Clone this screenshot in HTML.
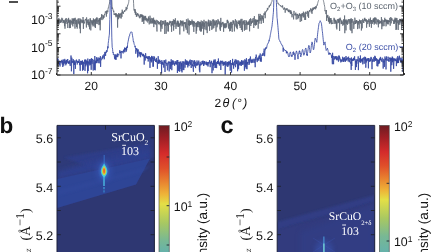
<!DOCTYPE html>
<html><head><meta charset="utf-8"><style>
html,body{margin:0;padding:0;background:#fff;}
body{width:448px;height:252px;overflow:hidden;position:relative;}
svg{position:absolute;left:0;top:0;text-rendering:geometricPrecision;}
.s{font-family:"Liberation Sans",Arial,sans-serif;}
.r{font-family:"Liberation Serif","Times New Roman",serif;}
</style></head><body>
<svg width="448" height="252" viewBox="0 0 448 252">
<defs>
<linearGradient id="cb" x1="0" y1="125.6" x2="0" y2="252" gradientUnits="userSpaceOnUse">
<stop offset="0.000" stop-color="#6e1c22"/>
<stop offset="0.100" stop-color="#a01f25"/>
<stop offset="0.220" stop-color="#d42b2b"/>
<stop offset="0.340" stop-color="#e0502a"/>
<stop offset="0.450" stop-color="#e98530"/>
<stop offset="0.540" stop-color="#eeb238"/>
<stop offset="0.620" stop-color="#e4df46"/>
<stop offset="0.770" stop-color="#a8c862"/>
<stop offset="0.910" stop-color="#78b894"/>
<stop offset="1.000" stop-color="#66b2aa"/>
</linearGradient>
<linearGradient id="cc" x1="0" y1="125.6" x2="0" y2="252" gradientUnits="userSpaceOnUse">
<stop offset="0.000" stop-color="#6e1c22"/>
<stop offset="0.094" stop-color="#a01f25"/>
<stop offset="0.208" stop-color="#d42b2b"/>
<stop offset="0.321" stop-color="#e0502a"/>
<stop offset="0.425" stop-color="#e98530"/>
<stop offset="0.510" stop-color="#eeb238"/>
<stop offset="0.585" stop-color="#e4df46"/>
<stop offset="0.735" stop-color="#a8c862"/>
<stop offset="0.875" stop-color="#78b894"/>
<stop offset="1.000" stop-color="#66b2aa"/>
</linearGradient>
<filter id="bl1" x="-50%" y="-50%" width="200%" height="200%"><feGaussianBlur stdDeviation="1.2"/></filter>
<filter id="bl2" x="-50%" y="-50%" width="200%" height="200%"><feGaussianBlur stdDeviation="0.6"/></filter>
<filter id="bl3" x="-50%" y="-50%" width="200%" height="200%"><feGaussianBlur stdDeviation="2.5"/></filter>
<clipPath id="cpb"><rect x="57" y="125.4" width="97.4" height="127"/></clipPath>
<clipPath id="cpc"><rect x="277.2" y="125.4" width="97.5" height="127"/></clipPath>
<clipPath id="cpa"><rect x="57" y="-5" width="346.5" height="80"/></clipPath>
</defs>

<!-- panel a -->
<line x1="9" y1="2" x2="18" y2="2" stroke="#222" stroke-width="1.6"/>
<g clip-path="url(#cpa)" fill="none" stroke-linejoin="round">
<polyline points="57.0,21.5 57.2,24.1 57.4,23.8 57.6,20.5 57.8,20.9 58.0,20.5 58.2,22.5 58.4,21.4 58.6,22.9 58.8,17.9 59.0,24.4 59.2,21.3 59.4,22.7 59.6,21.2 59.8,20.7 60.0,22.3 60.2,23.0 60.4,21.0 60.6,21.1 60.8,22.7 61.0,19.8 61.2,21.7 61.4,22.2 61.6,20.1 61.8,17.8 62.0,19.9 62.2,20.5 62.4,19.1 62.6,18.6 62.8,21.5 63.0,23.1 63.2,20.9 63.4,20.0 63.6,22.1 63.8,22.7 64.0,20.8 64.2,22.4 64.4,23.4 64.6,26.2 64.8,19.8 65.0,28.7 65.2,21.8 65.4,23.4 65.6,18.9 65.8,20.1 66.0,19.8 66.2,18.0 66.4,21.6 66.6,22.3 66.8,19.9 67.0,24.0 67.2,22.9 67.4,22.5 67.6,22.1 67.8,28.0 68.0,18.8 68.2,22.5 68.4,22.5 68.6,17.9 68.8,22.0 69.0,20.8 69.2,22.8 69.4,20.5 69.6,28.1 69.8,21.9 70.0,19.6 70.2,22.4 70.4,28.0 70.6,22.2 70.8,20.3 71.0,23.3 71.2,22.4 71.4,20.9 71.6,22.5 71.8,23.7 72.0,24.7 72.2,18.3 72.4,22.9 72.6,22.1 72.8,26.4 73.0,19.3 73.2,23.6 73.4,18.8 73.6,22.3 73.8,23.7 74.0,18.2 74.2,20.6 74.4,18.7 74.6,21.7 74.8,24.1 75.0,28.6 75.2,17.8 75.4,20.1 75.6,22.5 75.8,24.2 76.0,22.0 76.2,19.8 76.4,21.8 76.6,27.0 76.8,20.8 77.0,19.8 77.2,28.6 77.4,21.8 77.6,21.0 77.8,20.7 78.0,18.7 78.2,20.2 78.4,23.4 78.6,20.8 78.8,18.4 79.0,23.7 79.2,22.2 79.4,25.1 79.6,21.3 79.8,28.5 80.0,18.4 80.2,23.6 80.4,33.2 80.6,19.6 80.8,19.9 81.0,22.2 81.2,19.5 81.4,20.6 81.6,20.4 81.8,21.5 82.0,23.2 82.2,21.1 82.4,22.8 82.6,20.3 82.8,21.7 83.0,17.0 83.2,18.3 83.4,28.9 83.6,20.0 83.8,22.2 84.0,22.1 84.2,23.6 84.4,22.6 84.6,23.0 84.8,20.8 85.0,19.7 85.2,19.7 85.4,20.1 85.6,18.9 85.8,20.0 86.0,20.9 86.2,21.5 86.4,27.5 86.6,17.4 86.8,20.9 87.0,21.5 87.2,23.1 87.4,22.1 87.6,19.8 87.8,19.6 88.0,24.8 88.2,22.4 88.4,24.5 88.6,25.0 88.8,19.4 89.0,26.6 89.2,21.9 89.4,22.0 89.6,29.3 89.8,21.4 90.0,21.3 90.2,18.1 90.4,20.7 90.6,19.6 90.8,30.4 91.0,20.1 91.2,22.1 91.4,22.5 91.6,21.5 91.8,21.5 92.0,24.5 92.2,20.1 92.4,20.6 92.6,24.5 92.8,21.7 93.0,26.4 93.2,22.0 93.4,18.4 93.6,22.6 93.8,19.5 94.0,25.6 94.2,20.5 94.4,19.8 94.6,21.5 94.8,19.8 95.0,27.1 95.2,19.3 95.4,28.0 95.6,20.8 95.8,18.5 96.0,20.6 96.2,22.0 96.4,23.8 96.6,17.6 96.8,21.3 97.0,21.3 97.2,17.6 97.4,20.8 97.6,22.0 97.8,24.1 98.0,20.5 98.2,21.7 98.4,20.3 98.6,20.5 98.8,19.6 99.0,25.1 99.2,18.0 99.4,20.9 99.6,18.5 99.8,24.5 100.0,19.7 100.2,30.3 100.4,20.4 100.6,17.7 100.8,19.6 101.0,17.6 101.2,18.0 101.4,18.2 101.6,14.2 101.8,18.0 102.0,20.1 102.2,16.3 102.4,15.0 102.6,14.8 102.8,15.5 103.0,18.1 103.2,19.2 103.4,16.4 103.6,17.7 103.8,15.4 104.0,17.7 104.2,15.3 104.4,15.3 104.6,13.9 104.8,14.5 105.0,14.5 105.2,12.4 105.4,11.4 105.6,12.5 105.8,12.2 106.0,11.7 106.2,12.8 106.4,16.6 106.6,10.7 106.8,14.0 107.0,11.3 107.2,10.7 107.4,10.6 107.6,11.1 107.8,12.2 108.0,9.4 108.2,7.9 108.4,8.1 108.6,8.0 108.8,6.0 109.0,5.0 109.2,4.1 109.4,4.0 109.6,1.6 109.8,-1.1 110.0,-4.2 110.2,-7.4 110.4,-14.5 110.6,-26.6 110.8,-38.9 111.0,-26.6 111.2,-14.8 111.4,-7.3 111.6,-2.8 111.8,0.0 112.0,4.1 112.2,9.0 112.4,7.6 112.6,8.5 112.8,8.6 113.0,10.3 113.2,10.2 113.4,10.9 113.6,11.8 113.8,10.8 114.0,14.9 114.2,14.9 114.4,14.2 114.6,13.7 114.8,14.6 115.0,13.8 115.2,15.0 115.4,13.9 115.6,15.4 115.8,13.1 116.0,17.2 116.2,14.9 116.4,13.6 116.6,15.7 116.8,15.7 117.0,16.6 117.2,14.9 117.4,17.0 117.6,27.6 117.8,14.3 118.0,16.5 118.2,15.4 118.4,19.2 118.6,13.0 118.8,13.8 119.0,15.9 119.2,15.0 119.4,17.1 119.6,13.9 119.8,14.9 120.0,18.2 120.2,13.4 120.4,14.7 120.6,14.0 120.8,13.8 121.0,14.8 121.2,18.5 121.4,12.6 121.6,13.5 121.8,16.2 122.0,16.8 122.2,9.7 122.4,12.5 122.6,11.6 122.8,13.1 123.0,12.0 123.2,14.0 123.4,12.8 123.6,12.5 123.8,11.6 124.0,11.2 124.2,11.4 124.4,12.0 124.6,11.1 124.8,10.1 125.0,11.4 125.2,10.2 125.4,9.8 125.6,9.0 125.8,9.0 126.0,8.8 126.2,6.9 126.4,9.6 126.6,10.3 126.8,8.3 127.0,9.0 127.2,7.8 127.4,7.0 127.6,4.9 127.8,5.3 128.0,4.8 128.2,4.3 128.4,3.5 128.6,2.7 128.8,1.4 129.0,-0.4 129.2,-2.3 129.4,-4.9 129.6,-7.3 129.8,-10.0 130.0,-12.4 130.2,-15.2 130.4,-17.4 130.6,-19.8 130.8,-21.6 131.0,-23.6 131.2,-25.7 131.4,-27.6 131.6,-27.7 131.8,-25.6 132.0,-23.6 132.2,-21.8 132.4,-19.8 132.6,-16.3 132.8,-12.7 133.0,-8.4 133.2,-4.5 133.4,-0.6 133.6,3.4 133.8,7.7 134.0,10.0 134.2,10.6 134.4,9.2 134.6,10.1 134.8,10.9 135.0,12.8 135.2,9.2 135.4,14.8 135.6,11.6 135.8,12.9 136.0,12.2 136.2,13.5 136.4,16.8 136.6,14.1 136.8,14.4 137.0,16.4 137.2,13.2 137.4,14.9 137.6,14.1 137.8,13.4 138.0,14.5 138.2,14.4 138.4,15.8 138.6,14.9 138.8,14.4 139.0,17.2 139.2,16.7 139.4,17.2 139.6,16.4 139.8,18.3 140.0,15.2 140.2,15.5 140.4,17.4 140.6,16.3 140.8,14.1 141.0,16.4 141.2,14.5 141.4,16.9 141.6,15.0 141.8,15.0 142.0,17.2 142.2,22.0 142.4,14.7 142.6,18.6 142.8,20.9 143.0,15.3 143.2,20.7 143.4,16.8 143.6,17.2 143.8,24.0 144.0,15.8 144.2,20.3 144.4,19.1 144.6,17.1 144.8,18.0 145.0,16.0 145.2,18.0 145.4,20.2 145.6,15.9 145.8,18.1 146.0,19.1 146.2,20.7 146.4,21.3 146.6,18.3 146.8,17.9 147.0,20.0 147.2,18.7 147.4,18.9 147.6,21.4 147.8,22.5 148.0,20.1 148.2,19.4 148.4,20.8 148.6,16.5 148.8,19.9 149.0,18.1 149.2,24.4 149.4,21.5 149.6,20.5 149.8,19.9 150.0,15.7 150.2,21.8 150.4,23.5 150.6,19.2 150.8,21.9 151.0,22.1 151.2,17.9 151.4,22.6 151.6,23.5 151.8,21.5 152.0,21.0 152.2,22.7 152.4,18.3 152.6,21.5 152.8,23.4 153.0,19.1 153.2,23.4 153.4,20.8 153.6,17.7 153.8,27.1 154.0,20.0 154.2,22.5 154.4,19.8 154.6,24.1 154.8,20.7 155.0,22.8 155.2,21.0 155.4,21.5 155.6,24.4 155.8,22.6 156.0,21.5 156.2,19.8 156.4,24.4 156.6,23.6 156.8,29.4 157.0,31.5 157.2,20.3 157.4,20.4 157.6,20.8 157.8,23.0 158.0,22.9 158.2,21.0 158.4,23.8 158.6,23.9 158.8,22.8 159.0,24.4 159.2,21.9 159.4,22.3 159.6,23.4 159.8,22.4 160.0,24.0 160.2,25.3 160.4,25.3 160.6,21.1 160.8,31.6 161.0,20.0 161.2,26.6 161.4,25.0 161.6,24.7 161.8,24.2 162.0,28.8 162.2,21.2 162.4,21.8 162.6,20.9 162.8,24.9 163.0,23.1 163.2,22.7 163.4,23.7 163.6,21.0 163.8,21.1 164.0,21.2 164.2,23.8 164.4,23.5 164.6,24.0 164.8,34.0 165.0,20.3 165.2,25.9 165.4,23.2 165.6,20.4 165.8,22.0 166.0,24.9 166.2,33.7 166.4,25.1 166.6,23.1 166.8,22.6 167.0,25.1 167.2,22.4 167.4,23.7 167.6,25.6 167.8,22.4 168.0,31.4 168.2,23.1 168.4,31.4 168.6,24.1 168.8,23.5 169.0,24.3 169.2,25.0 169.4,21.6 169.6,23.6 169.8,21.5 170.0,20.8 170.2,21.0 170.4,21.6 170.6,23.0 170.8,21.4 171.0,23.7 171.2,26.5 171.4,23.0 171.6,31.8 171.8,23.8 172.0,21.2 172.2,22.8 172.4,21.4 172.6,24.8 172.8,21.1 173.0,25.8 173.2,24.4 173.4,19.4 173.6,30.6 173.8,26.2 174.0,26.7 174.2,25.2 174.4,19.9 174.6,23.8 174.8,20.1 175.0,24.2 175.2,19.9 175.4,18.3 175.6,24.0 175.8,27.6 176.0,28.9 176.2,24.9 176.4,23.5 176.6,22.7 176.8,24.4 177.0,26.4 177.2,20.9 177.4,24.4 177.6,23.9 177.8,20.6 178.0,26.3 178.2,27.0 178.4,21.5 178.6,26.6 178.8,23.4 179.0,23.0 179.2,26.1 179.4,23.7 179.6,23.9 179.8,34.5 180.0,25.7 180.2,25.0 180.4,20.6 180.6,20.3 180.8,25.4 181.0,21.5 181.2,23.6 181.4,21.2 181.6,22.9 181.8,20.8 182.0,26.4 182.2,21.3 182.4,23.0 182.6,22.9 182.8,25.6 183.0,20.6 183.2,23.2 183.4,22.9 183.6,24.3 183.8,31.3 184.0,22.4 184.2,23.7 184.4,22.5 184.6,24.1 184.8,23.1 185.0,22.0 185.2,23.2 185.4,23.9 185.6,27.6 185.8,22.3 186.0,23.8 186.2,29.7 186.4,19.3 186.6,19.9 186.8,21.0 187.0,23.0 187.2,27.9 187.4,33.2 187.6,25.5 187.8,22.8 188.0,18.6 188.2,21.8 188.4,25.2 188.6,23.6 188.8,20.8 189.0,34.6 189.2,20.3 189.4,25.4 189.6,26.0 189.8,21.8 190.0,21.1 190.2,24.8 190.4,21.2 190.6,24.9 190.8,21.0 191.0,24.8 191.2,23.4 191.4,22.4 191.6,21.5 191.8,23.7 192.0,19.6 192.2,22.7 192.4,22.5 192.6,24.5 192.8,20.9 193.0,26.5 193.2,22.6 193.4,21.1 193.6,25.9 193.8,31.9 194.0,22.9 194.2,21.5 194.4,23.3 194.6,21.9 194.8,26.7 195.0,26.2 195.2,24.0 195.4,23.5 195.6,23.9 195.8,23.1 196.0,24.8 196.2,33.7 196.4,22.5 196.6,30.9 196.8,27.8 197.0,24.0 197.2,22.9 197.4,27.1 197.6,23.2 197.8,21.1 198.0,24.5 198.2,21.5 198.4,22.3 198.6,23.8 198.8,27.2 199.0,21.8 199.2,22.2 199.4,22.1 199.6,25.4 199.8,30.5 200.0,22.1 200.2,27.1 200.4,22.2 200.6,31.5 200.8,25.7 201.0,29.9 201.2,20.5 201.4,31.4 201.6,24.5 201.8,25.0 202.0,23.3 202.2,28.8 202.4,25.8 202.6,21.2 202.8,25.9 203.0,23.5 203.2,22.1 203.4,22.6 203.6,34.8 203.8,25.1 204.0,19.8 204.2,27.0 204.4,22.9 204.6,22.9 204.8,29.2 205.0,29.4 205.2,24.8 205.4,21.4 205.6,22.5 205.8,22.1 206.0,21.8 206.2,30.2 206.4,23.9 206.6,21.9 206.8,21.4 207.0,22.3 207.2,33.1 207.4,23.4 207.6,23.6 207.8,22.6 208.0,22.7 208.2,23.6 208.4,19.7 208.6,26.3 208.8,21.7 209.0,22.1 209.2,25.7 209.4,23.6 209.6,30.8 209.8,22.1 210.0,20.2 210.2,23.5 210.4,25.5 210.6,21.5 210.8,25.8 211.0,21.0 211.2,21.8 211.4,24.1 211.6,23.2 211.8,29.9 212.0,21.8 212.2,21.2 212.4,19.6 212.6,20.9 212.8,28.8 213.0,28.4 213.2,23.8 213.4,21.9 213.6,19.4 213.8,27.9 214.0,21.6 214.2,20.8 214.4,25.5 214.6,25.4 214.8,21.0 215.0,20.4 215.2,21.3 215.4,25.3 215.6,22.6 215.8,21.6 216.0,31.7 216.2,25.5 216.4,20.5 216.6,22.4 216.8,20.5 217.0,27.3 217.2,26.6 217.4,25.0 217.6,22.9 217.8,24.4 218.0,19.2 218.2,23.7 218.4,20.6 218.6,20.6 218.8,21.8 219.0,22.5 219.2,24.3 219.4,24.5 219.6,23.7 219.8,21.4 220.0,29.4 220.2,22.9 220.4,30.9 220.6,21.4 220.8,17.9 221.0,22.2 221.2,27.2 221.4,24.0 221.6,22.8 221.8,24.8 222.0,24.1 222.2,24.0 222.4,22.2 222.6,23.3 222.8,23.5 223.0,21.9 223.2,26.4 223.4,23.4 223.6,31.8 223.8,24.4 224.0,24.1 224.2,24.1 224.4,28.1 224.6,23.6 224.8,25.1 225.0,26.9 225.2,23.2 225.4,23.6 225.6,28.2 225.8,26.3 226.0,23.7 226.2,23.8 226.4,23.3 226.6,27.4 226.8,25.3 227.0,22.7 227.2,19.9 227.4,22.9 227.6,19.9 227.8,21.2 228.0,23.2 228.2,21.4 228.4,25.2 228.6,28.6 228.8,23.6 229.0,24.2 229.2,25.9 229.4,24.9 229.6,31.3 229.8,23.3 230.0,23.0 230.2,25.3 230.4,21.9 230.6,31.0 230.8,23.0 231.0,23.6 231.2,28.4 231.4,27.2 231.6,21.9 231.8,23.6 232.0,23.7 232.2,31.8 232.4,24.0 232.6,23.9 232.8,25.0 233.0,20.3 233.2,23.2 233.4,20.8 233.6,23.6 233.8,20.9 234.0,21.3 234.2,23.0 234.4,31.4 234.6,24.2 234.8,23.7 235.0,25.8 235.2,21.3 235.4,19.2 235.6,22.3 235.8,22.6 236.0,25.5 236.2,27.2 236.4,20.6 236.6,27.8 236.8,26.1 237.0,24.7 237.2,29.2 237.4,27.7 237.6,23.3 237.8,22.2 238.0,23.4 238.2,20.5 238.4,24.0 238.6,22.9 238.8,23.8 239.0,23.8 239.2,21.1 239.4,25.6 239.6,21.2 239.8,24.8 240.0,20.1 240.2,28.0 240.4,21.5 240.6,23.1 240.8,21.8 241.0,18.9 241.2,20.9 241.4,30.0 241.6,24.1 241.8,20.1 242.0,18.9 242.2,21.2 242.4,31.8 242.6,25.8 242.8,21.3 243.0,24.4 243.2,24.6 243.4,24.2 243.6,21.0 243.8,22.9 244.0,22.3 244.2,20.0 244.4,30.7 244.6,22.8 244.8,21.7 245.0,25.3 245.2,29.9 245.4,24.2 245.6,24.8 245.8,23.9 246.0,20.1 246.2,21.7 246.4,24.3 246.6,21.0 246.8,29.6 247.0,23.1 247.2,25.1 247.4,24.8 247.6,24.0 247.8,21.9 248.0,24.0 248.2,23.2 248.4,21.9 248.6,24.8 248.8,23.1 249.0,20.7 249.2,24.5 249.4,21.6 249.6,31.3 249.8,19.2 250.0,22.0 250.2,20.2 250.4,20.1 250.6,18.3 250.8,26.0 251.0,21.6 251.2,22.4 251.4,24.0 251.6,21.6 251.8,22.8 252.0,19.2 252.2,22.1 252.4,20.9 252.6,22.6 252.8,22.0 253.0,18.9 253.2,18.0 253.4,19.5 253.6,22.8 253.8,28.0 254.0,22.1 254.2,17.4 254.4,16.1 254.6,20.0 254.8,25.0 255.0,19.9 255.2,21.7 255.4,20.6 255.6,25.6 255.8,19.2 256.0,21.1 256.2,24.3 256.4,20.6 256.6,24.9 256.8,20.1 257.0,20.8 257.2,21.9 257.4,19.8 257.6,21.4 257.8,21.4 258.0,20.0 258.2,28.7 258.4,20.1 258.6,21.0 258.8,13.9 259.0,23.6 259.2,20.8 259.4,19.1 259.6,16.0 259.8,16.7 260.0,21.0 260.2,13.9 260.4,17.8 260.6,19.6 260.8,18.3 261.0,19.1 261.2,23.8 261.4,21.3 261.6,15.8 261.8,15.2 262.0,17.5 262.2,19.1 262.4,16.7 262.6,18.2 262.8,15.7 263.0,20.6 263.2,18.0 263.4,22.9 263.6,17.5 263.8,14.5 264.0,13.3 264.2,14.8 264.4,13.9 264.6,14.6 264.8,14.2 265.0,11.6 265.2,18.2 265.4,12.7 265.6,12.5 265.8,12.1 266.0,11.6 266.2,12.1 266.4,11.3 266.6,11.1 266.8,10.0 267.0,10.6 267.2,9.9 267.4,7.9 267.6,9.7 267.8,8.8 268.0,9.3 268.2,8.2 268.4,7.9 268.6,7.7 268.8,7.3 269.0,6.7 269.2,5.7 269.4,7.2 269.6,5.2 269.8,5.4 270.0,5.4 270.2,4.9 270.4,4.6 270.6,5.5 270.8,3.9 271.0,3.3 271.2,3.4 271.4,2.3 271.6,2.1 271.8,1.6 272.0,1.2 272.2,-0.5 272.4,-2.1 272.6,-3.7 272.8,-5.3 273.0,-7.2 273.2,-8.8 273.4,-10.8 273.6,-13.1 273.8,-15.0 274.0,-16.9 274.2,-18.7 274.4,-23.7 274.6,-30.4 274.8,-35.8 275.0,-35.9 275.2,-30.2 275.4,-24.5 275.6,-18.4 275.8,-15.7 276.0,-12.8 276.2,-9.7 276.4,-6.9 276.6,-4.5 276.8,-1.5 277.0,1.2 277.2,1.6 277.4,2.1 277.6,2.3 277.8,2.4 278.0,3.7 278.2,3.1 278.4,3.6 278.6,4.6 278.8,4.8 279.0,4.7 279.2,4.7 279.4,4.5 279.6,4.7 279.8,5.2 280.0,5.5 280.2,5.8 280.4,5.5 280.6,5.1 280.8,6.5 281.0,6.2 281.2,6.4 281.4,6.5 281.6,5.9 281.8,6.5 282.0,6.9 282.2,7.5 282.4,7.1 282.6,5.4 282.8,7.2 283.0,7.8 283.2,8.5 283.4,8.3 283.6,9.6 283.8,9.1 284.0,9.2 284.2,9.1 284.4,7.5 284.6,9.2 284.8,9.2 285.0,8.5 285.2,12.7 285.4,9.4 285.6,8.8 285.8,9.2 286.0,9.2 286.2,9.7 286.4,9.3 286.6,10.2 286.8,8.2 287.0,9.7 287.2,8.6 287.4,9.7 287.6,10.7 287.8,10.4 288.0,10.4 288.2,10.6 288.4,12.1 288.6,9.8 288.8,11.8 289.0,9.6 289.2,10.8 289.4,11.5 289.6,10.6 289.8,11.8 290.0,12.5 290.2,10.7 290.4,13.8 290.6,11.8 290.8,10.2 291.0,12.2 291.2,11.7 291.4,14.2 291.6,11.9 291.8,14.9 292.0,17.3 292.2,15.5 292.4,14.0 292.6,14.1 292.8,14.6 293.0,14.9 293.2,15.6 293.4,16.1 293.6,19.4 293.8,12.6 294.0,10.9 294.2,13.8 294.4,15.3 294.6,14.9 294.8,14.7 295.0,14.1 295.2,13.8 295.4,14.4 295.6,15.4 295.8,12.6 296.0,16.0 296.2,19.5 296.4,14.9 296.6,14.4 296.8,14.8 297.0,14.0 297.2,13.9 297.4,15.2 297.6,14.1 297.8,19.2 298.0,15.2 298.2,14.8 298.4,14.9 298.6,18.0 298.8,15.6 299.0,15.2 299.2,16.0 299.4,13.4 299.6,15.5 299.8,13.8 300.0,15.3 300.2,21.9 300.4,16.0 300.6,15.9 300.8,14.3 301.0,16.4 301.2,14.5 301.4,15.6 301.6,21.1 301.8,14.6 302.0,13.3 302.2,15.8 302.4,13.4 302.6,13.7 302.8,13.4 303.0,15.9 303.2,17.5 303.4,11.7 303.6,15.4 303.8,17.0 304.0,16.5 304.2,13.4 304.4,14.1 304.6,14.5 304.8,20.0 305.0,13.7 305.2,12.3 305.4,14.4 305.6,19.9 305.8,11.7 306.0,12.7 306.2,13.4 306.4,12.9 306.6,13.4 306.8,13.6 307.0,13.2 307.2,12.4 307.4,10.9 307.6,12.9 307.8,16.5 308.0,14.1 308.2,11.8 308.4,11.7 308.6,18.0 308.8,12.9 309.0,11.7 309.2,11.9 309.4,10.3 309.6,11.5 309.8,10.0 310.0,10.5 310.2,10.4 310.4,10.0 310.6,8.4 310.8,9.4 311.0,10.3 311.2,12.4 311.4,9.4 311.6,9.9 311.8,10.0 312.0,13.8 312.2,8.5 312.4,9.0 312.6,10.9 312.8,8.1 313.0,7.6 313.2,8.5 313.4,7.8 313.6,9.8 313.8,8.1 314.0,7.9 314.2,7.6 314.4,9.0 314.6,7.0 314.8,7.4 315.0,6.9 315.2,7.2 315.4,8.2 315.6,9.3 315.8,6.1 316.0,6.7 316.2,8.2 316.4,6.2 316.6,6.3 316.8,5.8 317.0,4.8 317.2,5.3 317.4,4.9 317.6,3.6 317.8,2.6 318.0,2.2 318.2,1.4 318.4,0.8 318.6,0.3 318.8,-1.0 319.0,-1.7 319.2,-2.9 319.4,-3.1 319.6,-4.7 319.8,-6.5 320.0,-8.5 320.2,-10.8 320.4,-12.7 320.6,-14.9 320.8,-17.1 321.0,-18.7 321.2,-16.7 321.4,-14.9 321.6,-12.6 321.8,-10.7 322.0,-8.6 322.2,-6.8 322.4,-5.0 322.6,-3.1 322.8,-2.2 323.0,-1.4 323.2,-0.5 323.4,0.4 323.6,1.4 323.8,2.3 324.0,2.9 324.2,4.6 324.4,4.8 324.6,6.3 324.8,7.4 325.0,10.8 325.2,10.1 325.4,11.9 325.6,12.2 325.8,12.9 326.0,14.1 326.2,12.3 326.4,10.0 326.6,20.9 326.8,16.7 327.0,17.1 327.2,15.3 327.4,16.5 327.6,17.6 327.8,14.9 328.0,17.2 328.2,17.4 328.4,21.3 328.6,17.8 328.8,21.8 329.0,19.3 329.2,16.5 329.4,23.6 329.6,18.2 329.8,21.2 330.0,23.4 330.2,19.3 330.4,18.1 330.6,22.3 330.8,20.5 331.0,18.1 331.2,18.4 331.4,24.2 331.6,22.3 331.8,20.0 332.0,21.7 332.2,23.6 332.4,22.9 332.6,23.3 332.8,22.9 333.0,23.9 333.2,22.9 333.4,21.3 333.6,20.5 333.8,18.7 334.0,17.8 334.2,18.7 334.4,20.7 334.6,18.6 334.8,23.9 335.0,19.7 335.2,22.1 335.4,20.3 335.6,20.6 335.8,23.5 336.0,20.4 336.2,22.1 336.4,27.7 336.6,21.7 336.8,29.4 337.0,24.5 337.2,20.2 337.4,19.2 337.6,20.6 337.8,20.3 338.0,23.2 338.2,22.9 338.4,18.9 338.6,22.4 338.8,20.4 339.0,22.2 339.2,20.4 339.4,18.5 339.6,30.9 339.8,22.2 340.0,19.0 340.2,17.7 340.4,20.3 340.6,19.0 340.8,20.6 341.0,22.5 341.2,24.1 341.4,20.6 341.6,23.9 341.8,23.5 342.0,20.5 342.2,20.9 342.4,22.9 342.6,22.4 342.8,25.7 343.0,24.0 343.2,22.8 343.4,24.5 343.6,19.3 343.8,21.6 344.0,20.7 344.2,24.6 344.4,22.3 344.6,15.5 344.8,33.2 345.0,19.5 345.2,22.7 345.4,20.4 345.6,21.7 345.8,22.5 346.0,30.4 346.2,19.5 346.4,23.9 346.6,22.0 346.8,21.2 347.0,22.6 347.2,20.2 347.4,24.8 347.6,21.7 347.8,22.0 348.0,21.9 348.2,19.5 348.4,19.0 348.6,21.7 348.8,21.9 349.0,23.8 349.2,22.1 349.4,19.2 349.6,22.3 349.8,22.8 350.0,23.2 350.2,29.8 350.4,18.9 350.6,23.5 350.8,22.9 351.0,30.9 351.2,18.3 351.4,22.7 351.6,19.7 351.8,23.3 352.0,33.2 352.2,23.5 352.4,19.0 352.6,19.4 352.8,19.6 353.0,22.5 353.2,21.9 353.4,21.5 353.6,21.8 353.8,28.9 354.0,22.5 354.2,24.4 354.4,21.1 354.6,21.6 354.8,17.7 355.0,18.7 355.2,19.9 355.4,24.0 355.6,21.6 355.8,23.2 356.0,20.4 356.2,23.3 356.4,20.2 356.6,21.4 356.8,20.1 357.0,22.0 357.2,21.7 357.4,21.8 357.6,29.1 357.8,21.2 358.0,21.4 358.2,24.5 358.4,21.1 358.6,22.7 358.8,21.3 359.0,24.0 359.2,28.5 359.4,19.6 359.6,21.2 359.8,20.0 360.0,20.3 360.2,23.5 360.4,20.9 360.6,23.3 360.8,21.6 361.0,22.8 361.2,20.0 361.4,30.5 361.6,26.1 361.8,22.7 362.0,25.7 362.2,28.3 362.4,22.7 362.6,18.9 362.8,19.5 363.0,21.9 363.2,22.7 363.4,20.3 363.6,20.7 363.8,23.0 364.0,20.7 364.2,18.8 364.4,18.4 364.6,20.9 364.8,17.8 365.0,19.2 365.2,19.8 365.4,19.1 365.6,21.5 365.8,20.2 366.0,20.9 366.2,19.1 366.4,19.6 366.6,27.7 366.8,21.7 367.0,20.2 367.2,21.7 367.4,21.4 367.6,21.3 367.8,24.1 368.0,20.3 368.2,21.8 368.4,21.8 368.6,20.6 368.8,18.8 369.0,22.3 369.2,21.5 369.4,26.8 369.6,21.0 369.8,21.0 370.0,19.3 370.2,21.5 370.4,17.6 370.6,20.9 370.8,23.8 371.0,20.3 371.2,22.3 371.4,27.8 371.6,20.0 371.8,21.9 372.0,20.4 372.2,20.2 372.4,20.2 372.6,23.8 372.8,22.2 373.0,21.9 373.2,18.7 373.4,22.1 373.6,18.5 373.8,21.8 374.0,18.8 374.2,24.6 374.4,17.7 374.6,23.2 374.8,22.4 375.0,17.5 375.2,20.4 375.4,23.6 375.6,23.1 375.8,17.7 376.0,19.9 376.2,18.7 376.4,18.9 376.6,19.7 376.8,24.4 377.0,21.1 377.2,20.5 377.4,20.2 377.6,22.1 377.8,22.2 378.0,19.1 378.2,23.7 378.4,27.3 378.6,20.3 378.8,21.7 379.0,24.1 379.2,20.2 379.4,21.4 379.6,23.3 379.8,22.0 380.0,23.0 380.2,22.8 380.4,21.3 380.6,22.1 380.8,22.6 381.0,20.8 381.2,23.9 381.4,17.1 381.6,19.1 381.8,29.2 382.0,21.7 382.2,19.6 382.4,21.6 382.6,22.9 382.8,26.3 383.0,22.3 383.2,20.6 383.4,20.6 383.6,20.7 383.8,22.9 384.0,26.1 384.2,20.1 384.4,22.1 384.6,18.5 384.8,17.8 385.0,21.9 385.2,20.8 385.4,20.5 385.6,21.1 385.8,19.0 386.0,26.3 386.2,26.0 386.4,20.0 386.6,22.7 386.8,20.0 387.0,23.7 387.2,20.8 387.4,21.9 387.6,19.9 387.8,24.2 388.0,21.1 388.2,24.3 388.4,22.3 388.6,20.1 388.8,21.9 389.0,21.1 389.2,21.3 389.4,21.0 389.6,22.2 389.8,17.9 390.0,22.6 390.2,25.7 390.4,21.3 390.6,19.9 390.8,17.0 391.0,18.4 391.2,23.4 391.4,19.3 391.6,20.0 391.8,18.0 392.0,19.8 392.2,20.1 392.4,20.3 392.6,20.6 392.8,19.6 393.0,19.7 393.2,20.7 393.4,21.4 393.6,20.5 393.8,24.0 394.0,21.1 394.2,23.8 394.4,19.5 394.6,22.7 394.8,18.8 395.0,17.7 395.2,18.9 395.4,21.9 395.6,18.6 395.8,23.2 396.0,30.0 396.2,17.9 396.4,20.3 396.6,29.3 396.8,19.1 397.0,18.2 397.2,21.7 397.4,23.2 397.6,22.6 397.8,20.1 398.0,21.1 398.2,30.0 398.4,22.9 398.6,24.7 398.8,20.5 399.0,23.1 399.2,20.1 399.4,21.8 399.6,18.9 399.8,24.7 400.0,21.5 400.2,19.0 400.4,22.4 400.6,19.7 400.8,20.8 401.0,20.5 401.2,20.1 401.4,20.9 401.6,29.9 401.8,26.5 402.0,18.4 402.2,21.2 402.4,20.3 402.6,19.0 402.8,21.2 403.0,19.0 403.2,20.5 403.4,23.0" stroke="#616a76" stroke-width="0.8"/>
<polyline points="57.0,63.2 57.2,62.7 57.4,65.5 57.6,58.3 57.8,63.0 58.0,58.7 58.2,63.8 58.4,63.3 58.6,63.7 58.8,63.7 59.0,62.8 59.2,61.3 59.4,61.7 59.6,64.8 59.8,61.3 60.0,66.5 60.2,61.0 60.4,61.4 60.6,61.7 60.8,62.7 61.0,61.7 61.2,61.6 61.4,61.2 61.6,62.4 61.8,59.9 62.0,62.3 62.2,64.4 62.4,60.9 62.6,62.1 62.8,67.0 63.0,60.5 63.2,59.4 63.4,61.5 63.6,65.3 63.8,65.6 64.0,60.1 64.2,63.1 64.4,62.2 64.6,61.2 64.8,58.9 65.0,63.9 65.2,60.7 65.4,62.7 65.6,62.3 65.8,65.3 66.0,64.2 66.2,60.2 66.4,61.7 66.6,63.9 66.8,59.9 67.0,61.5 67.2,62.5 67.4,59.4 67.6,60.0 67.8,59.2 68.0,62.6 68.2,61.2 68.4,63.7 68.6,62.3 68.8,63.1 69.0,62.0 69.2,63.4 69.4,61.9 69.6,60.4 69.8,64.1 70.0,63.8 70.2,65.9 70.4,61.8 70.6,61.1 70.8,59.6 71.0,55.5 71.2,59.9 71.4,71.3 71.6,65.9 71.8,57.7 72.0,63.1 72.2,61.1 72.4,61.4 72.6,61.3 72.8,61.8 73.0,62.9 73.2,59.1 73.4,61.7 73.6,61.2 73.8,74.1 74.0,60.3 74.2,64.8 74.4,63.1 74.6,64.8 74.8,60.8 75.0,63.4 75.2,62.6 75.4,68.9 75.6,61.6 75.8,61.2 76.0,60.4 76.2,60.7 76.4,59.6 76.6,61.2 76.8,62.6 77.0,60.7 77.2,64.5 77.4,63.8 77.6,61.4 77.8,62.0 78.0,61.6 78.2,61.1 78.4,63.0 78.6,61.1 78.8,62.0 79.0,59.5 79.2,59.2 79.4,61.3 79.6,65.2 79.8,62.3 80.0,65.2 80.2,70.8 80.4,62.7 80.6,60.9 80.8,61.9 81.0,65.0 81.2,63.9 81.4,60.9 81.6,61.1 81.8,64.2 82.0,61.0 82.2,63.5 82.4,60.4 82.6,70.7 82.8,64.5 83.0,63.3 83.2,62.3 83.4,69.8 83.6,61.8 83.8,61.9 84.0,63.9 84.2,63.8 84.4,62.6 84.6,59.7 84.8,61.0 85.0,70.9 85.2,62.0 85.4,59.6 85.6,63.0 85.8,66.3 86.0,59.8 86.2,62.0 86.4,64.6 86.6,61.1 86.8,61.2 87.0,62.1 87.2,62.8 87.4,61.1 87.6,73.3 87.8,58.6 88.0,62.9 88.2,71.0 88.4,61.6 88.6,62.5 88.8,61.9 89.0,64.1 89.2,64.1 89.4,61.7 89.6,59.4 89.8,65.4 90.0,61.4 90.2,59.1 90.4,60.3 90.6,64.7 90.8,60.8 91.0,61.8 91.2,69.8 91.4,58.2 91.6,61.1 91.8,62.9 92.0,63.7 92.2,63.8 92.4,58.9 92.6,60.4 92.8,62.2 93.0,62.8 93.2,70.5 93.4,61.6 93.6,61.5 93.8,59.7 94.0,61.3 94.2,62.3 94.4,69.9 94.6,62.9 94.8,56.0 95.0,60.2 95.2,70.3 95.4,62.2 95.6,63.1 95.8,60.9 96.0,63.1 96.2,59.7 96.4,63.1 96.6,57.4 96.8,58.8 97.0,57.5 97.2,59.5 97.4,59.6 97.6,61.3 97.8,58.8 98.0,63.1 98.2,61.3 98.4,59.3 98.6,58.4 98.8,57.5 99.0,60.2 99.2,63.3 99.4,59.6 99.6,58.1 99.8,59.7 100.0,58.9 100.2,58.1 100.4,56.2 100.6,66.9 100.8,61.4 101.0,60.7 101.2,60.1 101.4,58.7 101.6,58.9 101.8,59.5 102.0,57.6 102.2,57.9 102.4,56.7 102.6,58.7 102.8,55.5 103.0,57.6 103.2,57.6 103.4,57.3 103.6,56.8 103.8,54.8 104.0,54.3 104.2,59.3 104.4,59.1 104.6,52.6 104.8,53.1 105.0,52.5 105.2,51.8 105.4,53.0 105.6,55.9 105.8,52.1 106.0,53.0 106.2,52.8 106.4,50.8 106.6,51.4 106.8,50.3 107.0,51.8 107.2,50.7 107.4,49.9 107.6,47.9 107.8,46.4 108.0,48.2 108.2,43.5 108.4,41.9 108.6,40.5 108.8,38.7 109.0,37.0 109.2,35.7 109.4,34.1 109.6,27.0 109.8,19.5 110.0,12.6 110.2,5.5 110.4,-6.4 110.6,-22.6 110.8,-38.8 111.0,-22.6 111.2,-6.5 111.4,9.7 111.6,26.0 111.8,37.2 112.0,42.9 112.2,47.4 112.4,47.9 112.6,49.3 112.8,51.6 113.0,52.9 113.2,52.3 113.4,54.7 113.6,54.9 113.8,54.4 114.0,54.3 114.2,55.1 114.4,56.9 114.6,58.7 114.8,57.8 115.0,54.5 115.2,59.5 115.4,57.3 115.6,58.7 115.8,54.5 116.0,59.9 116.2,57.4 116.4,56.5 116.6,55.4 116.8,56.9 117.0,54.5 117.2,54.1 117.4,53.5 117.6,57.0 117.8,57.2 118.0,54.3 118.2,54.9 118.4,54.6 118.6,55.1 118.8,55.3 119.0,54.5 119.2,53.5 119.4,52.8 119.6,52.1 119.8,50.2 120.0,53.0 120.2,52.0 120.4,52.9 120.6,52.6 120.8,51.4 121.0,58.4 121.2,52.8 121.4,52.4 121.6,51.1 121.8,51.1 122.0,52.4 122.2,51.9 122.4,51.9 122.6,51.3 122.8,52.1 123.0,53.0 123.2,53.4 123.4,50.3 123.6,49.9 123.8,51.8 124.0,50.1 124.2,49.2 124.4,50.1 124.6,47.6 124.8,52.3 125.0,49.1 125.2,49.1 125.4,48.1 125.6,49.5 125.8,48.5 126.0,48.1 126.2,51.7 126.4,47.1 126.6,50.3 126.8,48.4 127.0,47.7 127.2,46.2 127.4,47.8 127.6,44.3 127.8,42.8 128.0,41.9 128.2,41.2 128.4,39.9 128.6,39.0 128.8,38.0 129.0,37.1 129.2,36.2 129.4,35.8 129.6,35.9 129.8,34.2 130.0,33.9 130.2,33.3 130.4,32.7 130.6,32.4 130.8,31.9 131.0,31.9 131.2,31.9 131.4,32.0 131.6,32.1 131.8,32.0 132.0,32.3 132.2,33.6 132.4,35.1 132.6,35.8 132.8,37.5 133.0,38.4 133.2,40.3 133.4,41.7 133.6,41.3 133.8,42.0 134.0,43.3 134.2,44.3 134.4,44.7 134.6,45.1 134.8,45.4 135.0,47.2 135.2,46.2 135.4,47.3 135.6,49.4 135.8,53.7 136.0,50.0 136.2,49.6 136.4,48.5 136.6,50.1 136.8,48.3 137.0,50.7 137.2,51.6 137.4,49.6 137.6,57.4 137.8,51.0 138.0,51.0 138.2,49.4 138.4,51.4 138.6,52.7 138.8,53.0 139.0,56.4 139.2,51.7 139.4,54.0 139.6,53.9 139.8,52.9 140.0,53.0 140.2,54.3 140.4,52.4 140.6,57.2 140.8,52.9 141.0,52.2 141.2,54.5 141.4,54.3 141.6,52.8 141.8,52.9 142.0,55.2 142.2,54.7 142.4,55.0 142.6,55.7 142.8,53.9 143.0,56.4 143.2,54.9 143.4,56.0 143.6,53.9 143.8,56.3 144.0,55.8 144.2,64.6 144.4,55.4 144.6,57.9 144.8,56.8 145.0,58.2 145.2,60.5 145.4,56.9 145.6,53.2 145.8,54.6 146.0,58.1 146.2,57.3 146.4,58.0 146.6,56.5 146.8,58.1 147.0,56.5 147.2,57.0 147.4,59.0 147.6,58.8 147.8,56.6 148.0,57.4 148.2,61.5 148.4,59.7 148.6,57.4 148.8,56.2 149.0,58.6 149.2,56.2 149.4,56.3 149.6,59.9 149.8,60.8 150.0,67.9 150.2,58.7 150.4,57.3 150.6,59.4 150.8,60.8 151.0,58.6 151.2,62.4 151.4,58.4 151.6,55.9 151.8,61.4 152.0,56.3 152.2,57.7 152.4,58.4 152.6,59.3 152.8,56.8 153.0,66.8 153.2,60.1 153.4,66.4 153.6,58.2 153.8,58.7 154.0,56.1 154.2,60.5 154.4,58.6 154.6,57.2 154.8,59.6 155.0,60.6 155.2,60.4 155.4,61.0 155.6,62.0 155.8,59.2 156.0,60.5 156.2,60.7 156.4,57.9 156.6,62.3 156.8,59.9 157.0,61.0 157.2,61.2 157.4,68.8 157.6,62.2 157.8,62.6 158.0,61.3 158.2,56.2 158.4,63.5 158.6,61.0 158.8,60.3 159.0,63.9 159.2,59.7 159.4,61.0 159.6,62.7 159.8,59.9 160.0,62.2 160.2,61.0 160.4,61.6 160.6,61.5 160.8,62.7 161.0,64.0 161.2,62.4 161.4,64.0 161.6,73.4 161.8,60.2 162.0,64.1 162.2,62.2 162.4,62.4 162.6,64.4 162.8,62.4 163.0,61.7 163.2,64.9 163.4,64.6 163.6,63.5 163.8,67.6 164.0,61.1 164.2,60.0 164.4,62.4 164.6,60.9 164.8,63.4 165.0,72.0 165.2,61.8 165.4,62.8 165.6,61.4 165.8,59.6 166.0,61.6 166.2,64.0 166.4,63.2 166.6,64.4 166.8,65.7 167.0,64.3 167.2,62.7 167.4,70.3 167.6,69.8 167.8,65.6 168.0,65.3 168.2,64.4 168.4,61.5 168.6,63.8 168.8,64.0 169.0,64.9 169.2,71.4 169.4,61.7 169.6,63.1 169.8,63.1 170.0,61.8 170.2,63.7 170.4,69.1 170.6,64.7 170.8,62.0 171.0,66.3 171.2,59.3 171.4,63.2 171.6,61.7 171.8,70.2 172.0,62.6 172.2,65.0 172.4,62.0 172.6,60.4 172.8,63.3 173.0,63.9 173.2,61.6 173.4,60.7 173.6,64.2 173.8,64.7 174.0,64.1 174.2,63.0 174.4,62.9 174.6,65.7 174.8,64.2 175.0,61.3 175.2,61.1 175.4,64.0 175.6,64.1 175.8,61.9 176.0,61.6 176.2,64.5 176.4,62.4 176.6,64.3 176.8,61.0 177.0,61.2 177.2,60.0 177.4,73.0 177.6,62.2 177.8,60.1 178.0,63.2 178.2,62.0 178.4,71.1 178.6,65.3 178.8,64.6 179.0,63.8 179.2,62.4 179.4,67.0 179.6,71.7 179.8,62.3 180.0,69.0 180.2,61.4 180.4,62.0 180.6,62.9 180.8,63.6 181.0,64.8 181.2,71.1 181.4,62.7 181.6,66.2 181.8,64.1 182.0,72.4 182.2,61.3 182.4,62.2 182.6,62.5 182.8,64.3 183.0,70.0 183.2,62.0 183.4,61.5 183.6,63.4 183.8,70.1 184.0,63.9 184.2,61.6 184.4,62.6 184.6,63.7 184.8,63.4 185.0,67.7 185.2,61.4 185.4,59.4 185.6,60.7 185.8,64.4 186.0,61.1 186.2,64.7 186.4,62.6 186.6,64.2 186.8,60.4 187.0,64.7 187.2,64.9 187.4,61.4 187.6,65.2 187.8,67.4 188.0,63.0 188.2,61.4 188.4,64.9 188.6,62.5 188.8,64.7 189.0,66.1 189.2,62.3 189.4,62.6 189.6,60.6 189.8,62.1 190.0,63.8 190.2,59.6 190.4,64.1 190.6,64.5 190.8,65.0 191.0,62.0 191.2,68.0 191.4,62.5 191.6,61.2 191.8,60.0 192.0,61.7 192.2,60.6 192.4,66.3 192.6,64.3 192.8,64.5 193.0,66.7 193.2,69.6 193.4,71.8 193.6,64.4 193.8,61.3 194.0,64.1 194.2,60.2 194.4,66.4 194.6,62.6 194.8,60.7 195.0,63.1 195.2,62.0 195.4,65.1 195.6,68.1 195.8,65.2 196.0,62.7 196.2,65.2 196.4,64.7 196.6,64.3 196.8,65.7 197.0,60.5 197.2,65.3 197.4,63.7 197.6,62.4 197.8,62.7 198.0,64.8 198.2,65.1 198.4,64.3 198.6,61.1 198.8,60.6 199.0,63.1 199.2,64.1 199.4,70.4 199.6,64.6 199.8,72.3 200.0,63.9 200.2,61.8 200.4,65.2 200.6,64.7 200.8,65.4 201.0,63.7 201.2,63.6 201.4,63.7 201.6,64.6 201.8,62.8 202.0,61.1 202.2,64.0 202.4,64.2 202.6,61.0 202.8,61.9 203.0,60.6 203.2,63.6 203.4,63.4 203.6,66.0 203.8,61.5 204.0,65.3 204.2,62.7 204.4,63.5 204.6,61.0 204.8,63.1 205.0,62.2 205.2,62.9 205.4,63.4 205.6,63.9 205.8,64.5 206.0,63.0 206.2,61.6 206.4,64.8 206.6,63.2 206.8,62.1 207.0,65.4 207.2,63.6 207.4,64.3 207.6,65.0 207.8,62.0 208.0,66.5 208.2,64.0 208.4,63.9 208.6,61.9 208.8,62.9 209.0,63.7 209.2,63.0 209.4,62.9 209.6,60.1 209.8,61.8 210.0,62.3 210.2,67.2 210.4,64.0 210.6,63.1 210.8,61.9 211.0,61.9 211.2,63.5 211.4,60.8 211.6,62.7 211.8,62.6 212.0,73.2 212.2,65.9 212.4,62.9 212.6,64.6 212.8,65.8 213.0,67.9 213.2,70.4 213.4,61.0 213.6,65.8 213.8,61.2 214.0,59.6 214.2,64.9 214.4,60.6 214.6,61.1 214.8,61.9 215.0,68.0 215.2,59.4 215.4,63.4 215.6,67.7 215.8,64.4 216.0,63.0 216.2,62.4 216.4,62.2 216.6,68.1 216.8,64.5 217.0,62.3 217.2,63.6 217.4,61.1 217.6,63.9 217.8,61.2 218.0,62.8 218.2,62.7 218.4,58.5 218.6,64.2 218.8,63.0 219.0,61.7 219.2,61.8 219.4,65.6 219.6,62.8 219.8,63.8 220.0,63.3 220.2,64.1 220.4,63.5 220.6,60.7 220.8,70.0 221.0,63.9 221.2,63.7 221.4,63.1 221.6,60.9 221.8,61.9 222.0,61.7 222.2,64.2 222.4,61.7 222.6,60.8 222.8,61.7 223.0,63.6 223.2,65.8 223.4,62.3 223.6,65.0 223.8,62.3 224.0,62.4 224.2,61.7 224.4,64.4 224.6,62.3 224.8,64.7 225.0,62.4 225.2,74.5 225.4,63.5 225.6,63.2 225.8,61.1 226.0,65.3 226.2,63.7 226.4,63.3 226.6,63.2 226.8,62.4 227.0,66.3 227.2,63.8 227.4,61.9 227.6,63.0 227.8,67.0 228.0,63.0 228.2,62.7 228.4,64.7 228.6,61.6 228.8,65.6 229.0,63.2 229.2,61.3 229.4,63.0 229.6,62.1 229.8,64.4 230.0,62.5 230.2,70.7 230.4,60.0 230.6,62.5 230.8,64.2 231.0,64.1 231.2,63.3 231.4,72.3 231.6,72.6 231.8,63.2 232.0,63.6 232.2,64.8 232.4,63.5 232.6,58.9 232.8,65.1 233.0,62.1 233.2,64.4 233.4,63.4 233.6,68.7 233.8,64.9 234.0,64.2 234.2,65.4 234.4,64.7 234.6,61.0 234.8,61.1 235.0,62.5 235.2,59.4 235.4,66.0 235.6,67.2 235.8,62.9 236.0,62.6 236.2,59.7 236.4,64.1 236.6,62.0 236.8,61.1 237.0,60.8 237.2,63.0 237.4,62.8 237.6,71.2 237.8,62.1 238.0,60.2 238.2,65.6 238.4,64.5 238.6,69.2 238.8,60.9 239.0,61.4 239.2,64.3 239.4,64.0 239.6,63.6 239.8,65.2 240.0,62.2 240.2,65.5 240.4,63.4 240.6,61.8 240.8,63.9 241.0,63.5 241.2,61.7 241.4,65.9 241.6,60.1 241.8,63.2 242.0,63.5 242.2,61.5 242.4,62.8 242.6,64.9 242.8,60.7 243.0,60.7 243.2,62.0 243.4,63.4 243.6,64.4 243.8,63.4 244.0,60.5 244.2,64.2 244.4,70.7 244.6,64.0 244.8,59.4 245.0,59.3 245.2,61.0 245.4,61.3 245.6,67.2 245.8,60.1 246.0,60.1 246.2,68.8 246.4,58.2 246.6,59.8 246.8,61.8 247.0,69.2 247.2,62.1 247.4,64.3 247.6,62.1 247.8,62.7 248.0,62.9 248.2,61.5 248.4,59.2 248.6,60.9 248.8,61.0 249.0,65.0 249.2,62.4 249.4,63.5 249.6,58.6 249.8,61.1 250.0,62.5 250.2,61.9 250.4,56.5 250.6,58.0 250.8,60.8 251.0,61.1 251.2,60.7 251.4,63.1 251.6,60.0 251.8,59.5 252.0,61.7 252.2,59.7 252.4,60.8 252.6,62.2 252.8,62.9 253.0,59.7 253.2,58.8 253.4,60.5 253.6,60.8 253.8,61.4 254.0,60.7 254.2,62.9 254.4,59.7 254.6,59.6 254.8,58.8 255.0,61.4 255.2,67.2 255.4,58.6 255.6,56.9 255.8,58.8 256.0,60.3 256.2,54.6 256.4,57.0 256.6,57.2 256.8,57.3 257.0,58.6 257.2,62.1 257.4,58.6 257.6,58.8 257.8,60.4 258.0,57.8 258.2,58.6 258.4,57.6 258.6,58.0 258.8,60.6 259.0,55.7 259.2,57.9 259.4,58.8 259.6,55.6 259.8,56.8 260.0,56.7 260.2,53.5 260.4,61.4 260.6,58.3 260.8,60.6 261.0,57.4 261.2,61.8 261.4,56.2 261.6,55.4 261.8,55.5 262.0,54.9 262.2,54.3 262.4,55.8 262.6,55.1 262.8,53.8 263.0,52.9 263.2,55.7 263.4,53.7 263.6,52.6 263.8,50.7 264.0,50.2 264.2,48.6 264.4,50.8 264.6,56.2 264.8,54.1 265.0,50.0 265.2,49.9 265.4,50.0 265.6,47.6 265.8,47.7 266.0,48.9 266.2,47.9 266.4,47.6 266.6,48.1 266.8,47.1 267.0,45.8 267.2,45.1 267.4,44.3 267.6,44.2 267.8,43.7 268.0,43.1 268.2,43.1 268.4,42.4 268.6,42.4 268.8,41.4 269.0,40.5 269.2,41.1 269.4,39.1 269.6,38.8 269.8,37.7 270.0,37.1 270.2,35.7 270.4,34.6 270.6,33.6 270.8,32.4 271.0,31.4 271.2,30.4 271.4,29.7 271.6,28.4 271.8,27.1 272.0,26.2 272.2,24.2 272.4,22.4 272.6,20.6 272.8,19.1 273.0,16.2 273.2,14.3 273.4,12.3 273.6,7.6 273.8,0.8 274.0,-7.3 274.2,-14.4 274.4,-21.7 274.6,-28.5 274.8,-35.1 275.0,-34.8 275.2,-28.6 275.4,-22.0 275.6,-16.3 275.8,-11.9 276.0,-7.0 276.2,-2.6 276.4,2.4 276.6,7.3 276.8,11.8 277.0,17.3 277.2,18.6 277.4,21.0 277.6,23.0 277.8,25.3 278.0,27.6 278.2,30.2 278.4,32.2 278.6,34.8 278.8,38.1 279.0,39.4 279.2,39.7 279.4,40.2 279.6,40.3 279.8,40.9 280.0,41.6 280.2,42.0 280.4,41.8 280.6,42.5 280.8,42.8 281.0,43.6 281.2,43.8 281.4,44.1 281.6,44.2 281.8,45.0 282.0,45.2 282.2,45.7 282.4,45.9 282.6,45.6 282.8,46.9 283.0,47.3 283.2,51.7 283.4,47.8 283.6,48.8 283.8,49.1 284.0,49.0 284.2,49.1 284.4,49.5 284.6,49.7 284.8,50.2 285.0,50.0 285.2,50.6 285.4,50.7 285.6,51.0 285.8,50.3 286.0,51.1 286.2,51.3 286.4,53.3 286.6,51.5 286.8,51.2 287.0,51.9 287.2,52.5 287.4,51.9 287.6,52.8 287.8,52.8 288.0,54.0 288.2,55.3 288.4,55.6 288.6,56.4 288.8,56.9 289.0,56.6 289.2,56.8 289.4,54.8 289.6,54.6 289.8,53.2 290.0,52.5 290.2,52.6 290.4,51.9 290.6,52.5 290.8,53.5 291.0,54.1 291.2,56.2 291.4,55.6 291.6,56.3 291.8,55.6 292.0,56.6 292.2,56.0 292.4,55.7 292.6,54.6 292.8,53.4 293.0,52.1 293.2,52.5 293.4,51.7 293.6,51.7 293.8,54.8 294.0,52.8 294.2,54.2 294.4,54.5 294.6,55.8 294.8,55.6 295.0,59.8 295.2,56.3 295.4,55.2 295.6,54.2 295.8,53.4 296.0,52.4 296.2,51.8 296.4,50.9 296.6,51.7 296.8,51.5 297.0,52.8 297.2,54.1 297.4,54.4 297.6,55.8 297.8,55.8 298.0,59.1 298.2,55.5 298.4,55.3 298.6,54.3 298.8,53.1 299.0,52.1 299.2,51.1 299.4,50.7 299.6,52.0 299.8,51.3 300.0,53.7 300.2,52.8 300.4,54.4 300.6,54.9 300.8,56.9 301.0,55.6 301.2,55.2 301.4,54.9 301.6,54.0 301.8,52.8 302.0,51.9 302.2,50.6 302.4,49.7 302.6,49.4 302.8,49.7 303.0,50.4 303.2,51.8 303.4,52.6 303.6,54.0 303.8,55.2 304.0,55.2 304.2,54.6 304.4,54.3 304.6,53.0 304.8,52.3 305.0,50.7 305.2,49.3 305.4,48.9 305.6,48.1 305.8,48.3 306.0,48.3 306.2,49.8 306.4,52.3 306.6,52.2 306.8,55.0 307.0,54.1 307.2,55.9 307.4,53.5 307.6,52.4 307.8,51.5 308.0,49.9 308.2,48.7 308.4,47.0 308.6,46.2 308.8,45.4 309.0,46.0 309.2,46.0 309.4,47.6 309.6,49.4 309.8,50.5 310.0,51.9 310.2,53.0 310.4,52.3 310.6,51.8 310.8,51.1 311.0,49.3 311.2,47.1 311.4,45.5 311.6,43.7 311.8,42.7 312.0,41.9 312.2,42.3 312.4,42.6 312.6,44.2 312.8,45.7 313.0,47.2 313.2,48.7 313.4,49.6 313.6,49.8 313.8,49.1 314.0,48.0 314.2,46.5 314.4,44.7 314.6,42.8 314.8,40.7 315.0,39.2 315.2,38.3 315.4,38.1 315.6,38.7 315.8,39.3 316.0,40.1 316.2,40.4 316.4,41.1 316.6,41.7 316.8,42.3 317.0,40.3 317.2,38.3 317.4,36.3 317.6,34.2 317.8,32.3 318.0,30.8 318.2,29.4 318.4,27.7 318.6,26.2 318.8,24.9 319.0,23.3 319.2,23.0 319.4,22.7 319.6,22.2 319.8,21.6 320.0,21.3 320.2,20.7 320.4,21.2 320.6,21.6 320.8,22.1 321.0,22.4 321.2,23.2 321.4,23.3 321.6,24.9 321.8,26.6 322.0,28.3 322.2,30.3 322.4,31.6 322.6,33.3 322.8,35.6 323.0,37.3 323.2,39.3 323.4,41.3 323.6,43.3 323.8,45.1 324.0,44.7 324.2,44.1 324.4,43.6 324.6,43.0 324.8,42.4 325.0,41.9 325.2,43.3 325.4,45.4 325.6,46.2 325.8,48.7 326.0,49.0 326.2,50.5 326.4,50.0 326.6,49.8 326.8,49.5 327.0,49.3 327.2,48.6 327.4,48.1 327.6,49.1 327.8,49.6 328.0,50.3 328.2,51.7 328.4,52.8 328.6,53.6 328.8,54.6 329.0,53.6 329.2,53.3 329.4,54.2 329.6,52.7 329.8,53.3 330.0,54.2 330.2,53.3 330.4,53.7 330.6,53.5 330.8,54.0 331.0,54.5 331.2,54.9 331.4,55.9 331.6,57.8 331.8,55.6 332.0,55.3 332.2,62.0 332.4,64.2 332.6,52.8 332.8,57.1 333.0,56.0 333.2,56.2 333.4,60.7 333.6,64.2 333.8,57.6 334.0,56.2 334.2,56.4 334.4,56.8 334.6,59.5 334.8,58.4 335.0,57.9 335.2,56.6 335.4,57.1 335.6,58.5 335.8,56.1 336.0,57.1 336.2,59.3 336.4,57.9 336.6,60.2 336.8,56.3 337.0,57.4 337.2,57.0 337.4,56.9 337.6,59.6 337.8,60.2 338.0,58.7 338.2,58.5 338.4,61.7 338.6,61.5 338.8,55.6 339.0,58.9 339.2,55.8 339.4,56.6 339.6,58.2 339.8,57.4 340.0,60.4 340.2,58.7 340.4,59.0 340.6,59.3 340.8,62.4 341.0,60.0 341.2,61.0 341.4,60.3 341.6,61.5 341.8,59.5 342.0,59.3 342.2,61.6 342.4,59.7 342.6,56.8 342.8,57.3 343.0,58.7 343.2,60.3 343.4,58.2 343.6,62.0 343.8,60.2 344.0,59.0 344.2,57.4 344.4,60.6 344.6,60.5 344.8,57.5 345.0,61.7 345.2,61.5 345.4,61.9 345.6,59.4 345.8,61.0 346.0,56.0 346.2,60.2 346.4,58.7 346.6,59.3 346.8,60.2 347.0,58.3 347.2,59.1 347.4,57.8 347.6,58.1 347.8,57.5 348.0,60.0 348.2,61.5 348.4,57.8 348.6,56.7 348.8,59.0 349.0,60.1 349.2,59.8 349.4,62.2 349.6,59.4 349.8,58.0 350.0,58.7 350.2,59.2 350.4,58.7 350.6,60.2 350.8,63.7 351.0,61.9 351.2,69.9 351.4,57.5 351.6,61.0 351.8,66.0 352.0,59.8 352.2,59.4 352.4,60.0 352.6,60.8 352.8,59.2 353.0,60.8 353.2,58.5 353.4,60.2 353.6,57.8 353.8,60.0 354.0,60.4 354.2,58.5 354.4,60.0 354.6,56.3 354.8,59.3 355.0,59.0 355.2,60.5 355.4,70.0 355.6,61.1 355.8,62.6 356.0,59.6 356.2,60.9 356.4,67.1 356.6,61.0 356.8,63.8 357.0,59.1 357.2,60.1 357.4,61.1 357.6,61.0 357.8,60.2 358.0,60.2 358.2,56.4 358.4,70.1 358.6,62.1 358.8,61.9 359.0,60.3 359.2,61.8 359.4,59.7 359.6,58.5 359.8,59.5 360.0,58.4 360.2,62.5 360.4,55.5 360.6,60.0 360.8,62.7 361.0,58.7 361.2,60.8 361.4,59.5 361.6,61.4 361.8,59.3 362.0,59.4 362.2,59.7 362.4,61.6 362.6,58.4 362.8,64.3 363.0,58.6 363.2,58.8 363.4,57.5 363.6,59.0 363.8,60.3 364.0,61.9 364.2,63.7 364.4,62.1 364.6,61.9 364.8,56.7 365.0,60.3 365.2,57.5 365.4,59.3 365.6,57.3 365.8,67.7 366.0,58.6 366.2,62.5 366.4,60.1 366.6,61.0 366.8,59.0 367.0,59.6 367.2,58.3 367.4,58.6 367.6,59.0 367.8,61.1 368.0,60.1 368.2,58.3 368.4,68.3 368.6,58.1 368.8,60.4 369.0,60.0 369.2,60.0 369.4,60.7 369.6,60.5 369.8,62.0 370.0,58.4 370.2,60.8 370.4,59.3 370.6,61.1 370.8,58.8 371.0,56.9 371.2,58.9 371.4,58.6 371.6,57.8 371.8,59.0 372.0,69.2 372.2,59.1 372.4,60.8 372.6,61.9 372.8,61.3 373.0,60.4 373.2,61.2 373.4,58.9 373.6,57.5 373.8,57.2 374.0,61.2 374.2,61.9 374.4,59.2 374.6,59.7 374.8,55.8 375.0,60.8 375.2,59.5 375.4,56.6 375.6,60.5 375.8,60.7 376.0,61.0 376.2,59.5 376.4,60.1 376.6,58.2 376.8,62.0 377.0,66.1 377.2,61.8 377.4,60.6 377.6,59.3 377.8,66.4 378.0,63.7 378.2,60.3 378.4,60.0 378.6,64.1 378.8,60.0 379.0,60.9 379.2,59.1 379.4,58.9 379.6,63.4 379.8,58.8 380.0,58.1 380.2,60.2 380.4,56.9 380.6,59.6 380.8,58.9 381.0,59.9 381.2,60.4 381.4,60.1 381.6,59.6 381.8,61.8 382.0,58.8 382.2,57.7 382.4,59.3 382.6,60.8 382.8,62.6 383.0,63.1 383.2,68.6 383.4,61.6 383.6,62.4 383.8,58.9 384.0,62.2 384.2,60.5 384.4,66.9 384.6,60.7 384.8,60.8 385.0,56.5 385.2,59.9 385.4,60.1 385.6,58.6 385.8,60.0 386.0,69.4 386.2,58.4 386.4,59.5 386.6,56.4 386.8,60.4 387.0,60.6 387.2,60.2 387.4,60.6 387.6,59.0 387.8,58.8 388.0,56.8 388.2,56.8 388.4,58.5 388.6,61.2 388.8,59.7 389.0,61.9 389.2,61.0 389.4,58.0 389.6,58.7 389.8,57.9 390.0,57.3 390.2,60.1 390.4,60.8 390.6,58.2 390.8,71.7 391.0,61.2 391.2,58.8 391.4,60.3 391.6,58.1 391.8,65.2 392.0,60.6 392.2,56.7 392.4,62.2 392.6,56.9 392.8,59.9 393.0,59.0 393.2,61.2 393.4,58.3 393.6,68.9 393.8,65.0 394.0,62.6 394.2,61.2 394.4,58.6 394.6,60.4 394.8,60.2 395.0,58.5 395.2,60.5 395.4,61.1 395.6,59.2 395.8,61.0 396.0,61.2 396.2,61.3 396.4,66.1 396.6,59.7 396.8,62.2 397.0,57.7 397.2,60.6 397.4,59.5 397.6,63.2 397.8,56.0 398.0,62.7 398.2,59.5 398.4,60.7 398.6,63.0 398.8,57.6 399.0,59.4 399.2,59.9 399.4,55.7 399.6,58.7 399.8,59.0 400.0,59.5 400.2,60.9 400.4,60.3 400.6,59.3 400.8,57.7 401.0,62.9 401.2,59.9 401.4,62.2 401.6,59.8 401.8,61.3 402.0,57.9 402.2,61.4 402.4,59.5 402.6,60.0 402.8,60.9 403.0,71.9 403.2,60.3 403.4,60.5" stroke="#3649a3" stroke-width="0.85"/>
</g>
<g stroke="#222" stroke-width="0.9">
<line x1="56.5" y1="75" x2="56.5" y2="73.0"/>
<line x1="91.3" y1="75" x2="91.3" y2="72.0"/>
<line x1="126.1" y1="75" x2="126.1" y2="73.0"/>
<line x1="160.9" y1="75" x2="160.9" y2="72.0"/>
<line x1="195.7" y1="75" x2="195.7" y2="73.0"/>
<line x1="230.5" y1="75" x2="230.5" y2="72.0"/>
<line x1="265.3" y1="75" x2="265.3" y2="73.0"/>
<line x1="300.1" y1="75" x2="300.1" y2="72.0"/>
<line x1="334.9" y1="75" x2="334.9" y2="73.0"/>
<line x1="369.7" y1="75" x2="369.7" y2="72.0"/>
<line x1="404.5" y1="75" x2="404.5" y2="73.0"/>
<line x1="57" y1="75.0" x2="60.5" y2="75.0"/>
<line x1="403.5" y1="75.0" x2="400.0" y2="75.0"/>
<line x1="57" y1="70.9" x2="59.0" y2="70.9"/>
<line x1="403.5" y1="70.9" x2="401.5" y2="70.9"/>
<line x1="57" y1="68.4" x2="59.0" y2="68.4"/>
<line x1="403.5" y1="68.4" x2="401.5" y2="68.4"/>
<line x1="57" y1="66.7" x2="59.0" y2="66.7"/>
<line x1="403.5" y1="66.7" x2="401.5" y2="66.7"/>
<line x1="57" y1="65.4" x2="59.0" y2="65.4"/>
<line x1="403.5" y1="65.4" x2="401.5" y2="65.4"/>
<line x1="57" y1="64.3" x2="59.0" y2="64.3"/>
<line x1="403.5" y1="64.3" x2="401.5" y2="64.3"/>
<line x1="57" y1="63.4" x2="59.0" y2="63.4"/>
<line x1="403.5" y1="63.4" x2="401.5" y2="63.4"/>
<line x1="57" y1="62.6" x2="59.0" y2="62.6"/>
<line x1="403.5" y1="62.6" x2="401.5" y2="62.6"/>
<line x1="57" y1="61.9" x2="59.0" y2="61.9"/>
<line x1="403.5" y1="61.9" x2="401.5" y2="61.9"/>
<line x1="57" y1="61.2" x2="60.5" y2="61.2"/>
<line x1="403.5" y1="61.2" x2="400.0" y2="61.2"/>
<line x1="57" y1="57.1" x2="59.0" y2="57.1"/>
<line x1="403.5" y1="57.1" x2="401.5" y2="57.1"/>
<line x1="57" y1="54.7" x2="59.0" y2="54.7"/>
<line x1="403.5" y1="54.7" x2="401.5" y2="54.7"/>
<line x1="57" y1="53.0" x2="59.0" y2="53.0"/>
<line x1="403.5" y1="53.0" x2="401.5" y2="53.0"/>
<line x1="57" y1="51.6" x2="59.0" y2="51.6"/>
<line x1="403.5" y1="51.6" x2="401.5" y2="51.6"/>
<line x1="57" y1="50.6" x2="59.0" y2="50.6"/>
<line x1="403.5" y1="50.6" x2="401.5" y2="50.6"/>
<line x1="57" y1="49.6" x2="59.0" y2="49.6"/>
<line x1="403.5" y1="49.6" x2="401.5" y2="49.6"/>
<line x1="57" y1="48.8" x2="59.0" y2="48.8"/>
<line x1="403.5" y1="48.8" x2="401.5" y2="48.8"/>
<line x1="57" y1="48.1" x2="59.0" y2="48.1"/>
<line x1="403.5" y1="48.1" x2="401.5" y2="48.1"/>
<line x1="57" y1="47.5" x2="60.5" y2="47.5"/>
<line x1="403.5" y1="47.5" x2="400.0" y2="47.5"/>
<line x1="57" y1="43.4" x2="59.0" y2="43.4"/>
<line x1="403.5" y1="43.4" x2="401.5" y2="43.4"/>
<line x1="57" y1="40.9" x2="59.0" y2="40.9"/>
<line x1="403.5" y1="40.9" x2="401.5" y2="40.9"/>
<line x1="57" y1="39.2" x2="59.0" y2="39.2"/>
<line x1="403.5" y1="39.2" x2="401.5" y2="39.2"/>
<line x1="57" y1="37.9" x2="59.0" y2="37.9"/>
<line x1="403.5" y1="37.9" x2="401.5" y2="37.9"/>
<line x1="57" y1="36.8" x2="59.0" y2="36.8"/>
<line x1="403.5" y1="36.8" x2="401.5" y2="36.8"/>
<line x1="57" y1="35.9" x2="59.0" y2="35.9"/>
<line x1="403.5" y1="35.9" x2="401.5" y2="35.9"/>
<line x1="57" y1="35.1" x2="59.0" y2="35.1"/>
<line x1="403.5" y1="35.1" x2="401.5" y2="35.1"/>
<line x1="57" y1="34.4" x2="59.0" y2="34.4"/>
<line x1="403.5" y1="34.4" x2="401.5" y2="34.4"/>
<line x1="57" y1="33.8" x2="60.5" y2="33.8"/>
<line x1="403.5" y1="33.8" x2="400.0" y2="33.8"/>
<line x1="57" y1="29.6" x2="59.0" y2="29.6"/>
<line x1="403.5" y1="29.6" x2="401.5" y2="29.6"/>
<line x1="57" y1="27.2" x2="59.0" y2="27.2"/>
<line x1="403.5" y1="27.2" x2="401.5" y2="27.2"/>
<line x1="57" y1="25.5" x2="59.0" y2="25.5"/>
<line x1="403.5" y1="25.5" x2="401.5" y2="25.5"/>
<line x1="57" y1="24.1" x2="59.0" y2="24.1"/>
<line x1="403.5" y1="24.1" x2="401.5" y2="24.1"/>
<line x1="57" y1="23.1" x2="59.0" y2="23.1"/>
<line x1="403.5" y1="23.1" x2="401.5" y2="23.1"/>
<line x1="57" y1="22.1" x2="59.0" y2="22.1"/>
<line x1="403.5" y1="22.1" x2="401.5" y2="22.1"/>
<line x1="57" y1="21.3" x2="59.0" y2="21.3"/>
<line x1="403.5" y1="21.3" x2="401.5" y2="21.3"/>
<line x1="57" y1="20.6" x2="59.0" y2="20.6"/>
<line x1="403.5" y1="20.6" x2="401.5" y2="20.6"/>
<line x1="57" y1="20.0" x2="60.5" y2="20.0"/>
<line x1="403.5" y1="20.0" x2="400.0" y2="20.0"/>
<line x1="57" y1="15.9" x2="59.0" y2="15.9"/>
<line x1="403.5" y1="15.9" x2="401.5" y2="15.9"/>
<line x1="57" y1="13.4" x2="59.0" y2="13.4"/>
<line x1="403.5" y1="13.4" x2="401.5" y2="13.4"/>
<line x1="57" y1="11.7" x2="59.0" y2="11.7"/>
<line x1="403.5" y1="11.7" x2="401.5" y2="11.7"/>
<line x1="57" y1="10.4" x2="59.0" y2="10.4"/>
<line x1="403.5" y1="10.4" x2="401.5" y2="10.4"/>
<line x1="57" y1="9.3" x2="59.0" y2="9.3"/>
<line x1="403.5" y1="9.3" x2="401.5" y2="9.3"/>
<line x1="57" y1="8.4" x2="59.0" y2="8.4"/>
<line x1="403.5" y1="8.4" x2="401.5" y2="8.4"/>
<line x1="57" y1="7.6" x2="59.0" y2="7.6"/>
<line x1="403.5" y1="7.6" x2="401.5" y2="7.6"/>
<line x1="57" y1="6.9" x2="59.0" y2="6.9"/>
<line x1="403.5" y1="6.9" x2="401.5" y2="6.9"/>
<line x1="57" y1="6.2" x2="60.5" y2="6.2"/>
<line x1="403.5" y1="6.2" x2="400.0" y2="6.2"/>
<line x1="57" y1="2.1" x2="59.0" y2="2.1"/>
<line x1="403.5" y1="2.1" x2="401.5" y2="2.1"/>
<line x1="57" y1="-0.3" x2="59.0" y2="-0.3"/>
<line x1="403.5" y1="-0.3" x2="401.5" y2="-0.3"/>
</g>
<path d="M57,-2 V75 H403.5 V-2" fill="none" stroke="#222" stroke-width="1"/>
<g class="s" font-size="12" fill="#141414">
<text x="52.5" y="24.3" text-anchor="end" font-size="12.5">10<tspan font-size="8.5" dy="-5.5">-3</tspan></text>
<text x="52.5" y="51.8" text-anchor="end" font-size="12.5">10<tspan font-size="8.5" dy="-5.5">-5</tspan></text>
<text x="52.5" y="79.3" text-anchor="end" font-size="12.5">10<tspan font-size="8.5" dy="-5.5">-7</tspan></text>
<text x="91.3" y="90" text-anchor="middle">20</text>
<text x="160.9" y="90" text-anchor="middle">30</text>
<text x="230.5" y="90" text-anchor="middle">40</text>
<text x="300.1" y="90" text-anchor="middle">50</text>
<text x="369.7" y="90" text-anchor="middle">60</text>
<text x="214.5" y="107">2<tspan font-style="italic" dx="1.4" font-size="12.5">θ</tspan><tspan dx="2.6" font-style="italic">(</tspan><tspan dx="1.2">°</tspan><tspan dx="1.2" font-style="italic">)</tspan></text>
</g>
<g class="s" font-size="9">
<text x="398" y="9.2" text-anchor="end" fill="#5a636e">O<tspan font-size="6" dy="2">2</tspan><tspan dy="-2">+O</tspan><tspan font-size="6" dy="2">3</tspan><tspan dy="-2"> (10 sccm)</tspan></text>
<text x="398.2" y="50.4" text-anchor="end" fill="#3d50a8">O<tspan font-size="6" dy="2">2</tspan><tspan dy="-2"> (20 sccm)</tspan></text>
</g>
<line x1="398.8" y1="6.2" x2="403" y2="6.2" stroke="#5a636e" stroke-width="0.8"/>
<line x1="398.8" y1="46.8" x2="403" y2="46.8" stroke="#3d50a8" stroke-width="0.8"/>

<!-- panel b -->
<text x="-0.6" y="132.5" class="s" font-size="22.5" font-weight="bold" fill="#111">b</text>
<g clip-path="url(#cpb)">
<rect x="57" y="125.4" width="97.4" height="127" fill="#2e3a79"/>
<polygon points="57,208 136,184.5 150,158.6 154.4,157 154.4,253 57,253" fill="#2e3772"/>
<polygon points="64,157.5 150,143 150,158.6 98,170" fill="#2f3e88" filter="url(#bl1)"/>
<polygon points="57,172 98,160 150,150 150,158.6 57,179" fill="#2f4190" filter="url(#bl3)"/>
<polygon points="57,179 150,158.6 136,184.5 57,208" fill="#2f4496" filter="url(#bl2)"/>
<polygon points="57,190 150,166 143,172 57,196" fill="#31489c" opacity="0.5" filter="url(#bl1)"/>
<ellipse cx="104" cy="171" rx="8" ry="11" fill="#3a5cc0" opacity="0.4" filter="url(#bl3)"/>
<g filter="url(#bl2)">
<line x1="104.2" y1="155" x2="104.2" y2="165" stroke="#3a78d0" stroke-width="1.2" opacity="0.7"/>
<line x1="104" y1="176" x2="104" y2="186" stroke="#48b8e0" stroke-width="1.5" opacity="0.95"/>
<line x1="104" y1="187" x2="104" y2="189.2" stroke="#40a8e0" stroke-width="1.3" opacity="0.85"/>
<line x1="104" y1="190.2" x2="104" y2="192.6" stroke="#3a98d8" stroke-width="1.3" opacity="0.75"/>
<ellipse cx="104" cy="171" rx="4.5" ry="8.5" fill="#3a8ee0" opacity="0.45" filter="url(#bl1)"/>
<path d="M104.1,163.6 C105.8,166.2 107.4,168.6 107.4,171.2 C107.4,174 105.6,176.2 104.1,177.8 C102.6,176.2 100.8,174 100.8,171.2 C100.8,168.6 102.4,166.2 104.1,163.6Z" fill="#44c4e4"/>
<path d="M104.1,165.8 C105.3,167.6 106.3,169.4 106.3,171.4 C106.3,173.3 105.2,174.6 104.1,175.6 C103,174.6 101.9,173.3 101.9,171.4 C101.9,169.4 102.9,167.6 104.1,165.8Z" fill="#bfe04a"/>
<ellipse cx="104.1" cy="170.8" rx="1.35" ry="3.3" fill="#f0a030"/>
<ellipse cx="104.1" cy="170.8" rx="0.8" ry="2.2" fill="#e8602a"/>
</g>
</g>
<path d="M57,252 V125.4 H154.4 V252" fill="none" stroke="#1a1f3a" stroke-width="1"/>
<rect x="159" y="125.6" width="10.2" height="127" fill="url(#cb)" stroke="#444" stroke-width="0.6"/>
<g stroke="#1e2230" stroke-width="0.9">
<line x1="57" y1="137.8" x2="60.8" y2="137.8"/>
<line x1="150.6" y1="137.8" x2="154.4" y2="137.8"/>
<line x1="57" y1="162.0" x2="60.8" y2="162.0"/>
<line x1="150.6" y1="162.0" x2="154.4" y2="162.0"/>
<line x1="57" y1="186.3" x2="60.8" y2="186.3"/>
<line x1="150.6" y1="186.3" x2="154.4" y2="186.3"/>
<line x1="57" y1="210.5" x2="60.8" y2="210.5"/>
<line x1="150.6" y1="210.5" x2="154.4" y2="210.5"/>
<line x1="57" y1="234.7" x2="60.8" y2="234.7"/>
<line x1="150.6" y1="234.7" x2="154.4" y2="234.7"/>
<line x1="105.5" y1="125.4" x2="105.5" y2="129.6"/>
<line x1="166.6" y1="205.7" x2="169.2" y2="205.7"/>
<line x1="166.6" y1="245" x2="169.2" y2="245"/>
<line x1="166.6" y1="157" x2="169.2" y2="157"/>
</g>

<g class="s" font-size="12" fill="#141414">
<text x="53.2" y="143.1" text-anchor="end" font-size="12.5">5.6</text>
<text x="53.2" y="191.6" text-anchor="end" font-size="12.5">5.4</text>
<text x="53.2" y="240.1" text-anchor="end" font-size="12.5">5.2</text>
<text x="173.8" y="130.5" font-size="12.4">10<tspan font-size="8.5" dy="-4">2</tspan></text>
<text x="173.8" y="210.5" font-size="12.4">10<tspan font-size="8.5" dy="-4">1</tspan></text>
<text transform="translate(206.7,192.8) rotate(-90)" text-anchor="end" font-size="13.4">Intensity (a.u.)</text>
</g>
<text transform="translate(29.5,240.6) rotate(-90)" class="r" font-size="14" fill="#141414">(Å<tspan font-size="12" dy="-5.5">−1</tspan><tspan dy="5.5">)</tspan></text>
<text transform="translate(29.5,259) rotate(-90)" class="r" font-size="14" font-style="italic" fill="#141414">q<tspan font-size="9" dy="1.5">z</tspan></text>
<g class="r" fill="#fff" font-size="11">
<text x="148.3" y="141" text-anchor="end" font-size="12">SrCuO<tspan font-size="7.5" dy="4">2</tspan></text>
<text x="130" y="155" text-anchor="middle" font-size="12">103</text>
<line x1="122.2" y1="145.3" x2="126" y2="145.3" stroke="#fff" stroke-width="0.9"/>
</g>

<!-- panel c -->
<text x="220.5" y="132.8" class="s" font-size="23.5" font-weight="bold" fill="#111">c</text>
<g clip-path="url(#cpc)">
<rect x="277.2" y="125.4" width="97.5" height="127" fill="#2e3772"/>
<polygon points="277.2,222 374.7,195 374.7,202 277.2,230" fill="#313d84" filter="url(#bl1)"/>
<polygon points="277.2,230 374.7,202 374.7,260 277.2,260" fill="#303b7e" filter="url(#bl1)"/>
<polygon points="300,232 374.7,205 374.7,260 300,260" fill="#323f88" opacity="0.6" filter="url(#bl3)"/>
<ellipse cx="324" cy="250" rx="9" ry="10" fill="#3a5ab8" opacity="0.45" filter="url(#bl3)"/>
<g filter="url(#bl2)">
<line x1="313" y1="238" x2="335" y2="252" stroke="#4060c0" stroke-width="0.7" opacity="0.35"/>
<line x1="335" y1="238" x2="313" y2="252" stroke="#4060c0" stroke-width="0.7" opacity="0.35"/>
<line x1="323.9" y1="236.5" x2="323.9" y2="253" stroke="#4a9ee0" stroke-width="1.0"/>
<line x1="323.9" y1="243.5" x2="323.9" y2="253" stroke="#7ad8d0" stroke-width="1.2"/>
</g>
</g>
<path d="M277.2,252 V125.4 H374.7 V252" fill="none" stroke="#1a1f3a" stroke-width="1"/>
<rect x="379.4" y="125.4" width="9.8" height="127" fill="url(#cc)" stroke="#444" stroke-width="0.6"/>
<g stroke="#1e2230" stroke-width="0.9">
<line x1="277.2" y1="137.8" x2="281.0" y2="137.8"/>
<line x1="370.9" y1="137.8" x2="374.7" y2="137.8"/>
<line x1="277.2" y1="162.0" x2="281.0" y2="162.0"/>
<line x1="370.9" y1="162.0" x2="374.7" y2="162.0"/>
<line x1="277.2" y1="186.3" x2="281.0" y2="186.3"/>
<line x1="370.9" y1="186.3" x2="374.7" y2="186.3"/>
<line x1="277.2" y1="210.5" x2="281.0" y2="210.5"/>
<line x1="370.9" y1="210.5" x2="374.7" y2="210.5"/>
<line x1="277.2" y1="234.7" x2="281.0" y2="234.7"/>
<line x1="370.9" y1="234.7" x2="374.7" y2="234.7"/>
<line x1="325.8" y1="125.4" x2="325.8" y2="129.6"/>
<line x1="386.6" y1="183.3" x2="389.2" y2="183.3"/>
<line x1="386.6" y1="241" x2="389.2" y2="241"/>
</g>

<g class="s" font-size="12" fill="#141414">
<text x="273.5" y="143.1" text-anchor="end" font-size="12.5">5.6</text>
<text x="273.5" y="191.6" text-anchor="end" font-size="12.5">5.4</text>
<text x="273.5" y="240.1" text-anchor="end" font-size="12.5">5.2</text>
<text x="393.9" y="130.5" font-size="12.4">10<tspan font-size="8.5" dy="-4">2</tspan></text>
<text x="393.9" y="246.4" font-size="12.4">10<tspan font-size="8.5" dy="-4">1</tspan></text>
<text transform="translate(427.9,192.9) rotate(-90)" text-anchor="end" font-size="13.4">Intensity (a.u.)</text>
</g>
<text transform="translate(249.9,240.6) rotate(-90)" class="r" font-size="14" fill="#141414">(Å<tspan font-size="12" dy="-5.5">−1</tspan><tspan dy="5.5">)</tspan></text>
<text transform="translate(249.9,259) rotate(-90)" class="r" font-size="14" font-style="italic" fill="#141414">q<tspan font-size="9" dy="1.5">z</tspan></text>
<g class="r" fill="#fff" font-size="11">
<text x="371.5" y="220.2" text-anchor="end" font-size="11.7">SrCuO<tspan font-size="6.7" dy="4.6">2+δ</tspan></text>
<text x="350" y="235" text-anchor="middle" font-size="11.7">103</text>
<line x1="342.2" y1="225" x2="346" y2="225" stroke="#fff" stroke-width="0.9"/>
</g>
</svg>
</body></html>
